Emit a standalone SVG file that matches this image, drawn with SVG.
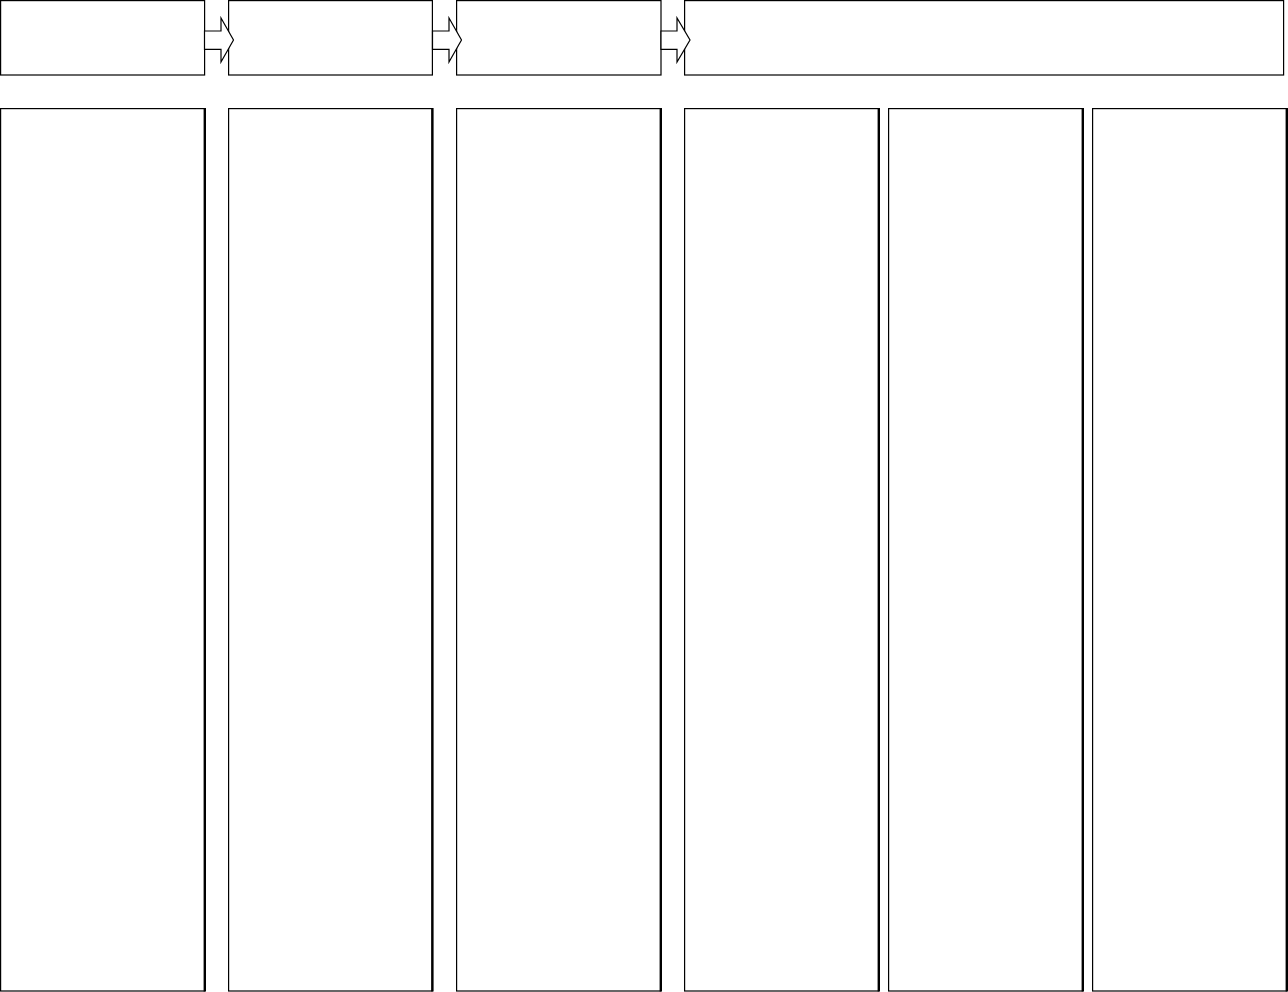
<svg xmlns="http://www.w3.org/2000/svg" width="1288" height="992" viewBox="0 0 1288 992">
<style>
.box{fill:#fff;stroke:#000;stroke-width:1.2}
.edge{stroke:#000;stroke-width:2.4}
.arrow{fill:#fff;stroke:#000;stroke-width:1.2;stroke-linejoin:miter}
</style>
<rect width="1288" height="992" fill="#fff"/>
<g id="top1"><rect class="box" x="0.6" y="0.6" width="204" height="74.4"/></g>
<g id="top2"><rect class="box" x="228.6" y="0.6" width="203.8" height="74.4"/></g>
<g id="top3"><rect class="box" x="456.6" y="0.6" width="204.4" height="74.4"/></g>
<g id="top4"><rect class="box" x="684.6" y="0.6" width="599" height="74.4"/></g>
<g id="col1"><rect class="box" x="0.6" y="108.6" width="204" height="882.4"/><line class="edge" x1="204.8" y1="108" x2="204.8" y2="991.6"/></g>
<g id="col2"><rect class="box" x="228.6" y="108.6" width="203.6" height="882.4"/><line class="edge" x1="432.4" y1="108" x2="432.4" y2="991.6"/></g>
<g id="col3"><rect class="box" x="456.6" y="108.6" width="204" height="882.4"/><line class="edge" x1="660.8" y1="108" x2="660.8" y2="991.6"/></g>
<g id="col4"><rect class="box" x="684.6" y="108.6" width="194" height="882.4"/><line class="edge" x1="878.8" y1="108" x2="878.8" y2="991.6"/></g>
<g id="col5"><rect class="box" x="888.6" y="108.6" width="194" height="882.4"/><line class="edge" x1="1082.8" y1="108" x2="1082.8" y2="991.6"/></g>
<g id="col6"><rect class="box" x="1092.6" y="108.6" width="194" height="882.4"/><line class="edge" x1="1286.8" y1="108" x2="1286.8" y2="991.6"/></g>
<g id="connectors">
<polygon class="arrow" points="204.5,31 221,31 221,18 233.5,40 221,62 221,49.3 204.5,49.3"/>
<polygon class="arrow" points="432.5,31 449,31 449,18 461.5,40 449,62 449,49.3 432.5,49.3"/>
<polygon class="arrow" points="661,31 677,31 677,18 690,40 677,62 677,49.3 661,49.3"/>
</g>
</svg>
